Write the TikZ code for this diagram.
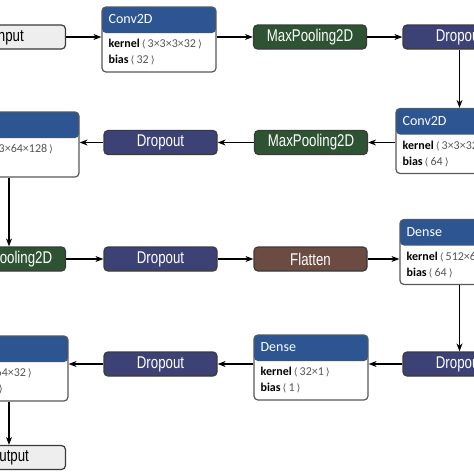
\documentclass[tikz,border=0pt]{standalone}
\usepackage{fontspec}
\usepackage{xcolor}
\usepackage{tikz}
\usetikzlibrary{arrows.meta}
\newfontfamily\boxfont[FakeStretch=0.78]{Liberation Sans}
\newfontfamily\layerfont{Carlito}
\newfontfamily\brfont{DejaVu Sans}
\definecolor{convblue}{HTML}{2D5592}
\definecolor{dropblue}{HTML}{3D4276}
\definecolor{poolgreen}{HTML}{2E5332}
\definecolor{flatbrown}{HTML}{6B4B42}
\definecolor{iogray}{HTML}{EEEEEE}
\definecolor{edgegray}{HTML}{3A3A3A}
\definecolor{txtgray}{HTML}{555555}
\tikzstyle{op}=[draw=edgegray, line width=1.2pt, rounded corners=4pt, minimum width=113pt, minimum height=24pt, inner sep=0pt, text=white, font=\boxfont\fontsize{17}{18}\selectfont]
\tikzstyle{io}=[op, fill=iogray, text=black]
\tikzstyle{layer}=[draw=edgegray!85, line width=1.2pt, rounded corners=4pt, inner sep=0pt, fill=white, minimum height=65pt,
  path picture={\fill[convblue] (path picture bounding box.north west) rectangle ([yshift=-26pt]path picture bounding box.north east);}]
\tikzstyle{head}=[anchor=west, text=white, inner sep=0pt, font=\layerfont\fontsize{14}{16}\selectfont]
\tikzstyle{param}=[anchor=west, inner sep=0pt, font=\layerfont\fontsize{12}{14}\selectfont]
\tikzstyle{flow}=[line width=1.3pt, -{Stealth[length=8pt,width=6pt]}]
\newcommand{\lbr}{{\brfont\fontsize{10}{12}\selectfont⟨}}
\newcommand{\rbr}{{\brfont\fontsize{10}{12}\selectfont⟩}}
% layer with weights: name, x, y, width, title, kernel, bias
\newcommand{\wlayer}[7]{%
  \node[layer, minimum width=#4pt] (#1) at (#2,#3) {};
  \node[head] (#1-t) at ([xshift=7pt,yshift=-13pt]#1.north west) {#5};
  \node[param] (#1-k) at ([xshift=7pt,yshift=-38pt]#1.north west) {\textbf{kernel}\,\textcolor{txtgray}{\lbr\,#6\,\rbr}};
  \node[param] (#1-b) at ([xshift=7pt,yshift=-54pt]#1.north west) {\textbf{bias}\,\textcolor{txtgray}{\lbr\,#7\,\rbr}};
}

\begin{document}
\begin{tikzpicture}[x=1pt, y=-1pt]
    \useasboundingbox (0,0) rectangle (474,474);
    \clip (0,0) rectangle (474,474);
    \node[io] (in) at (9,37) {Input};
    \node[io] (out) at (9,457.5) {Output};
    \foreach \name/\x/\y/\txt/\col in {m1/310/37/MaxPooling2D/poolgreen, d1/459.5/37/Dropout/dropblue,
        m2/311/142.5/MaxPooling2D/poolgreen, d2/160.5/142.5/Dropout/dropblue,
        m3/9/259/MaxPooling2D/poolgreen, d3/160.5/259/Dropout/dropblue, f/310.5/259/Flatten/flatbrown,
        d4/459.5/364/Dropout/dropblue, d5/160.5/364/Dropout/dropblue} {
        \node[op, fill=\col] (\name) at (\x,\y) {\txt};
    }
    \wlayer{c1}{159}{39.5}{114}{Conv2D}{3×3×3×32}{32}
    \wlayer{c2}{459}{141}{126}{Conv2D}{3×3×32×64}{64}
    \wlayer{c3}{10}{144.5}{138}{Conv2D}{3×3×64×128}{128}
    \wlayer{de1}{459}{252}{118}{Dense}{512×64}{64}
    \wlayer{de2}{311}{367.5}{114}{Dense}{32×1}{1}
    \wlayer{de3}{9}{368.5}{118}{Dense}{64×32}{32}
    % connections
    \draw[flow] (in) -- (in -| c1.west);
    \draw[flow] (c1.east |- m1) -- (m1);
    \draw[flow] (m1) -- (d1);
    \draw[flow] (d1) -- (d1 |- c2.north);
    \draw[flow] (c2.west |- m2) -- (m2);
    \draw[flow] (m2) -- (d2);
    \draw[flow] (d2) -- (d2 -| c3.east);
    \draw[flow] (m3 |- c3.south) -- (m3);
    \draw[flow] (m3) -- (d3);
    \draw[flow] (d3) -- (f);
    \draw[flow] (f) -- (f -| de1.west);
    \draw[flow] (d4 |- de1.south) -- (d4);
    \draw[flow] (d4) -- (d4 -| de2.east);
    \draw[flow] (de2.west |- d5) -- (d5);
    \draw[flow] (d5) -- (d5 -| de3.east);
    \draw[flow] (out |- de3.south) -- (out);
\end{tikzpicture}
\end{document}
